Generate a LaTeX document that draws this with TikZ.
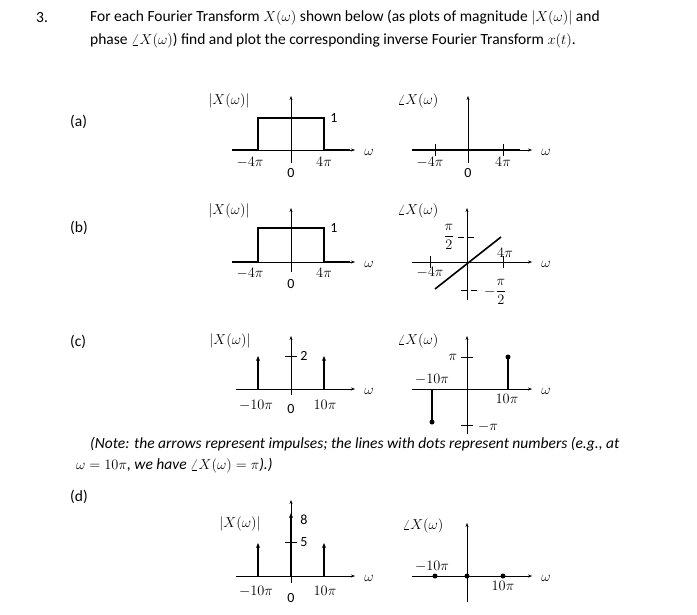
\documentclass[tikz,border=0pt]{standalone}
\usepackage{fontspec}
\setmainfont{Carlito}
\usetikzlibrary{arrows.meta}
\begin{document}
\begin{tikzpicture}[x=1pt,y=-1pt,
 ax/.style={-{Stealth[length=4pt,width=3pt]},line width=0.5pt},
 thk/.style={line width=1.6pt},
 imp/.style={line width=1.6pt,-{Stealth[length=5pt,width=4pt]}},
 dt/.style={circle,fill,inner sep=0pt,minimum size=5pt},
 lb/.style={font=\fontsize{14}{16}\selectfont,inner sep=1pt},
 tx/.style={font=\fontsize{15.5}{18}\selectfont,anchor=west,inner sep=0pt}]
\useasboundingbox (0,0) rectangle (697,614);
\node[tx] (n3) at (36,18) {3.};
\node[tx] (t1) at (90,18) {For each Fourier Transform $X(\omega)$ shown below (as plots of magnitude $|X(\omega)|$ and};
\node[tx] (t2) at (90,41) {phase $\angle X(\omega)$) find and plot the corresponding inverse Fourier Transform $x(t)$.};
\node[tx] (la) at (70,122) {(a)};
\node[tx] (lb2) at (70,228) {(b)};
\node[tx] (lc) at (70,342) {(c)};
\node[tx] (ld) at (70,497) {(d)};
% (a) magnitude
\draw[ax] (291,163) -- (291,96);
\draw[ax] (232,150) -- (355,150);
\draw[thk] (232,150) -- (258,150) -- (258,118) -- (324,118) -- (324,150) -- (350,150);
\node[lb] (a1) at (229,101) {$|X(\omega)|$};
\node[lb] (a2) at (334,118) {1};
\node[lb] (a3) at (250,162) {$-4\pi$};
\node[lb] (a4) at (324,162) {$4\pi$};
\node[lb] (a5) at (291,173) {0};
\node[lb] (a6) at (369,152) {$\omega$};
% (a) phase
\draw[ax] (468,163) -- (468,96);
\draw[ax] (412,150) -- (532,150);
\draw[thk] (412,150) -- (520,150);
\draw (435,144) -- (435,156) (503,144) -- (503,156);
\node[lb] (a7) at (418,101) {$\angle X(\omega)$};
\node[lb] (a8) at (430,162) {$-4\pi$};
\node[lb] (a9) at (503,162) {$4\pi$};
\node[lb] (a10) at (468,173) {0};
\node[lb] (a11) at (546,152) {$\omega$};
% (b) magnitude
\draw[ax] (291,272) -- (291,208);
\draw[ax] (232,262) -- (355,262);
\draw[thk] (232,262) -- (258,262) -- (258,228) -- (324,228) -- (324,262) -- (350,262);
\node[lb] (b1) at (229,211) {$|X(\omega)|$};
\node[lb] (b2) at (334,228) {1};
\node[lb] (b3) at (250,273) {$-4\pi$};
\node[lb] (b4) at (324,273) {$4\pi$};
\node[lb] (b5) at (291,284) {0};
\node[lb] (b6) at (369,264) {$\omega$};
% (b) phase
\draw[ax] (467,300) -- (467,208);
\draw[ax] (412,262) -- (532,262);
\draw (430,256) -- (430,268) (503,256) -- (503,268);
\draw[dash pattern=on 6pt off 4pt] (458,237) -- (478,237);
\draw[dash pattern=on 6pt off 4pt] (461,290) -- (481,290);
\draw[thk] (435,289) -- (501,237);
\node[lb] (b7) at (418,211) {$\angle X(\omega)$};
\node[lb] (b8) at (449,237) {$\displaystyle\frac{\pi}{2}$};
\node[lb,anchor=west] (b9) at (483,292) {$\displaystyle-\frac{\pi}{2}$};
\node[lb] (b10) at (505,253) {$4\pi$};
\node[lb] (b11) at (430,272) {$-4\pi$};
\node[lb] (b12) at (546,264) {$\omega$};
% (c) magnitude
\draw[ax] (291,395) -- (291,336);
\draw[ax] (236,389) -- (355,389);
\draw[imp] (258,389) -- (258,356);
\draw[imp] (324,389) -- (324,356);
\draw (285,356) -- (297,356);
\node[lb] (c1) at (230,341) {$|X(\omega)|$};
\node[lb] (c2) at (304,356) {2};
\node[lb] (c3) at (256,405) {$-10\pi$};
\node[lb] (c4) at (325,405) {$10\pi$};
\node[lb] (c5) at (291,409) {0};
\node[lb] (c6) at (369,391) {$\omega$};
% (c) phase
\draw[ax] (467,434) -- (467,336);
\draw[ax] (412,389) -- (532,389);
\draw (461,357) -- (473,357) (461,425) -- (473,425);
\draw[thk] (508,389) -- (508,357) node[dt] (cd1) {};
\draw[thk] (432,389) -- (432,422) node[dt] (cd2) {};
\node[lb] (c7) at (418,341) {$\angle X(\omega)$};
\node[lb] (c8) at (453,357) {$\pi$};
\node[lb] (c9) at (488,427) {$-\pi$};
\node[lb] (c10) at (432,379) {$-10\pi$};
\node[lb] (c11) at (507,399) {$10\pi$};
\node[lb] (c12) at (546,391) {$\omega$};
% note
\node[tx] (nt1) at (90,444) {\itshape (Note: the arrows represent impulses; the lines with dots represent numbers (e.g., at};
\node[tx] (nt2) at (76,466) {\itshape $\omega=10\pi$, we have $\angle X(\omega)=\pi$).)};
% (d) magnitude
\draw[ax] (291,583) -- (291,500);
\draw[ax] (236,576) -- (355,576);
\draw[imp] (258,576) -- (258,543);
\draw[imp] (324,576) -- (324,543);
\draw[imp] (291,576) -- (291,513);
\draw (285,542) -- (297,542);
\node[lb] (d1) at (240,524) {$|X(\omega)|$};
\node[lb] (d2) at (304,520) {8};
\node[lb] (d3) at (304,542) {5};
\node[lb] (d4) at (256,591) {$-10\pi$};
\node[lb] (d5) at (325,591) {$10\pi$};
\node[lb] (d6) at (291,598) {0};
\node[lb] (d7) at (369,578) {$\omega$};
% (d) phase
\draw[ax] (467,602) -- (467,523);
\draw[ax] (412,576) -- (532,576);
\node[dt] (dd1) at (435,576) {};
\node[dt] (dd2) at (467,576) {};
\node[dt] (dd3) at (503,576) {};
\node[lb] (d8) at (423,526) {$\angle X(\omega)$};
\node[lb] (d9) at (432,566) {$-10\pi$};
\node[lb] (d10) at (503,586) {$10\pi$};
\node[lb] (d11) at (546,578) {$\omega$};
\end{tikzpicture}
\end{document}
